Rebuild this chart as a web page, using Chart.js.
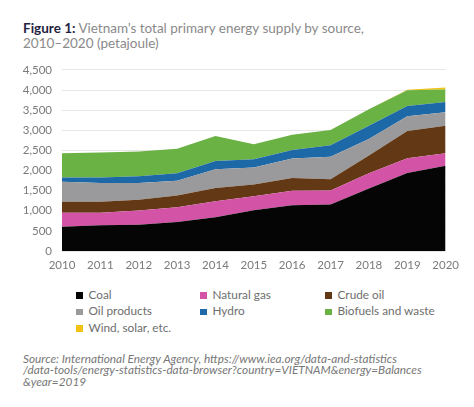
<!DOCTYPE html>
<html><head><meta charset="utf-8">
<script src="https://cdn.jsdelivr.net/npm/chart.js@4.4.0/dist/chart.umd.min.js"></script>
<style>
html,body{margin:0;padding:0;background:#fff;width:474px;height:407px;overflow:hidden;font-family:Lato,"Open Sans",sans-serif;}
#title{position:absolute;left:23px;top:21px;font-size:13.5px;line-height:14.5px;color:#8a8a8a;}
#title b{color:#1f2340;}
#wrap{position:absolute;left:10px;top:53px;width:456px;height:222px;}
#legend{position:absolute;left:0;top:286.5px;width:474px;font-size:11.8px;color:#6e6e6e;}
.li{position:absolute;white-space:nowrap;line-height:16px;}
.li span{display:inline-block;width:6.5px;height:6.5px;margin-right:6px;vertical-align:0px;}
#source{position:absolute;left:23px;top:352.5px;font-size:11.8px;line-height:11.5px;color:#777;font-style:italic;}
</style></head>
<body>
<div id="title"><b>Figure 1:</b> Vietnam’s total primary energy supply by source,<br>2010–2020 (petajoule)</div>
<div id="wrap"><canvas id="c"></canvas></div>
<div id="legend"></div>
<div id="source">Source: International Energy Agency, https://www.iea.org/data-and-statistics<br>/data-tools/energy-statistics-data-browser?country=VIETNAM&amp;energy=Balances<br>&amp;year=2019</div>
<script>
const years = ["2010","2011","2012","2013","2014","2015","2016","2017","2018","2019","2020"];
const coal        = [600, 640, 655, 720, 840, 1015, 1135, 1156, 1555, 1940, 2120];
const naturalGas  = [350, 312, 350, 370, 395, 345, 360, 349, 375, 365, 310];
const crudeOil    = [275, 270, 267, 288, 333, 290, 320, 280, 440, 675, 685];
const oilProducts = [497, 468, 418, 365, 462, 425, 485, 560, 410, 370, 335];
const hydro       = [104, 136, 165, 187, 204, 205, 212, 285, 335, 250, 255];
const biofuels    = [604, 619, 620, 612, 621, 370, 376, 375, 405, 395, 310];
const windSolar   = [0, 0, 0, 0, 0, 0, 0, 0, 0, 10, 45];
const seriesNames = ["Coal","Natural gas","Crude oil","Oil products","Hydro","Biofuels and waste","Wind, solar, etc."];
const colors = ["#050505","#d353a6","#633814","#9a9a9c","#1d69a8","#6bb244","#f2c111"];
const seriesData = [coal,naturalGas,crudeOil,oilProducts,hydro,biofuels,windSolar];
const yTicks = [0,500,1000,1500,2000,2500,3000,3500,4000,4500];

const datasets = seriesData.map((d,i)=>({
  label: seriesNames[i], data: d, backgroundColor: colors[i], borderColor: colors[i],
  borderWidth: 0, pointRadius: 0, tension: 0, fill: i===0 ? 'origin' : '-1'
}));

new Chart(document.getElementById('c'), {
  type: 'line',
  data: { labels: years, datasets },
  options: {
    responsive: true, maintainAspectRatio: false, animation: false,
    layout: { padding: { top: 0, right: 19, left: 0, bottom: 0 } },
    plugins: { legend: { display: false }, tooltip: { enabled: false } },
    scales: {
      x: {
        offset: false,
        grid: { display: false, drawTicks: false },
        border: { display: false },
        ticks: { color: '#7a7a7a', font: { family: 'Lato', size: 11.5 }, padding: 7, maxRotation: 0 },
        afterFit: s => { s.height = 24; }
      },
      y: {
        stacked: true, min: 0, max: 4500,
        afterBuildTicks: s => { s.ticks = yTicks.map(v => ({ value: v })); },
        grid: { color: '#e6e6e6', lineWidth: 1, drawTicks: false },
        border: { display: false },
        ticks: { color: '#7a7a7a', font: { family: 'Lato', size: 11.5 }, padding: 10,
                 callback: v => v.toLocaleString('en-US') },
        afterFit: s => { s.width = 52; }
      }
    }
  }
});

const leg = document.getElementById('legend');
const colX = [76, 200, 325], rowY = [0, 16.5, 33];
seriesNames.forEach((n,i)=>{
  const d = document.createElement('div');
  d.className = 'li';
  d.style.left = colX[i%3] + 'px';
  d.style.top = rowY[Math.floor(i/3)] + 'px';
  d.innerHTML = '<span style="background:'+colors[i]+'"></span>' + n;
  leg.appendChild(d);
});
</script>
</body></html>
